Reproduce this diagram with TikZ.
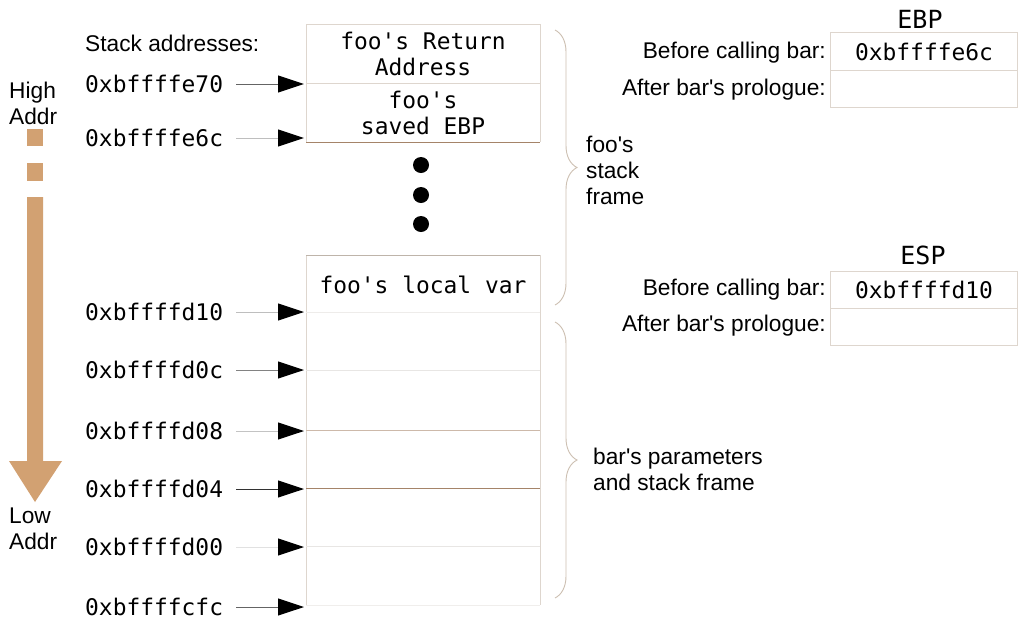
\documentclass[tikz,border=0pt]{standalone}
\usepackage{fontspec}
\newfontfamily\sansfnt{Liberation Sans}
\newfontfamily\monofnt{DejaVu Sans Mono}
\usetikzlibrary{arrows.meta,decorations.pathreplacing}
\definecolor{tan}{RGB}{210,161,114}
\definecolor{cellline}{RGB}{222,214,206}
\definecolor{brownline}{RGB}{165,132,105}
\definecolor{bracecol}{RGB}{205,192,178}
\tikzset{
  sanstxt/.style={inner sep=0pt, font=\sansfnt\fontsize{22.7}{26}\selectfont},
  monotxt/.style={inner sep=0pt, font=\monofnt\fontsize{22.9}{26.5}\selectfont},
  regtxt/.style={inner sep=0pt, font=\monofnt\fontsize{25}{28}\selectfont},
  addrarrow/.style={line width=1pt, -{Triangle[length=26pt,width=17pt,black]}},
  bracestyle/.style={draw=bracecol, line width=0.9pt, decorate, decoration={brace, amplitude=22pt}},
  dot/.style={circle, fill=black, inner sep=0pt, minimum size=16pt},
}
\begin{document}
\begin{tikzpicture}[x=1pt,y=-1pt]
\useasboundingbox (0,0) rectangle (1024,622);
\fill[white] (0,0) rectangle (1024,622);

% ---- left direction arrow
\node[sanstxt, anchor=west, align=left] (high) at (9,103) {High\\Addr};
\fill[tan] (27,129) rectangle (43,146);
\fill[tan] (27,163) rectangle (43,181);
\fill[tan] (27,197) -- (43,197) -- (43,461) -- (62,461) -- (35,502) -- (9,461) -- (27,461) -- cycle;
\node[sanstxt, anchor=west, align=left] (low) at (9,529) {Low\\Addr};

% ---- stack boxes
\node[sanstxt, anchor=west] (stacklbl) at (85,43) {Stack addresses:};
\draw[cellline, line width=0.9pt] (306,142) -- (306,24) -- (540,24) -- (540,142);
\draw[cellline, line width=0.9pt] (306,83) -- (540,83);
\draw[brownline, line width=1pt] (306,142) -- (540,142);
\node[monotxt, align=center] (ret) at (423,54) {foo's Return\\Address};
\node[monotxt, align=center] (sebp) at (423,113) {foo's\\saved EBP};

\node[dot] (d1) at (421,165) {};
\node[dot] (d2) at (421,195) {};
\node[dot] (d3) at (421,224) {};

\draw[cellline, line width=0.9pt] (306,605) -- (306,255) -- (540,255) -- (540,605);
\draw[color={rgb,255:red,190;green,180;blue,170}, line width=0.9pt] (306,255) -- (540,255);
\node[monotxt] (lvar) at (423,285) {foo's local var};
\draw[color={rgb,255:red,238;green,236;blue,234}, line width=0.9pt] (306,312) -- (540,312);
\draw[color={rgb,255:red,232;green,230;blue,228}, line width=0.9pt] (306,370) -- (540,370);
\draw[color={rgb,255:red,205;green,185;blue,170}, line width=0.9pt] (306,430) -- (540,430);
\draw[brownline, line width=1pt] (306,488) -- (540,488);
\draw[color={rgb,255:red,232;green,230;blue,228}, line width=0.9pt] (306,546) -- (540,546);
\draw[color={rgb,255:red,240;green,238;blue,236}, line width=0.9pt] (306,605) -- (540,605);

% ---- address labels and arrows
\foreach \n/\lab/\yy/\gr in {1/0xbffffe70/84/100, 2/0xbffffe6c/138/190, 3/0xbffffd10/312/190, 4/0xbffffd0c/370/130, 5/0xbffffd08/431/195, 6/0xbffffd04/489/50, 7/0xbffffd00/547/225, 8/0xbffffcfc/607/100}{
  \node[monotxt, anchor=west] (a\n) at (85,\yy) {\lab};
  \coordinate (s\n) at (236,\yy);
  \coordinate (t\n) at (304,\yy);
  \draw[addrarrow, draw={rgb,255:red,\gr;green,\gr;blue,\gr}] (s\n) -- (t\n);
}

% ---- braces
\coordinate (b1top) at (555,30);
\coordinate (b1bot) at (555,305);
\draw[bracestyle] (b1top) -- (b1bot);
\node[sanstxt, anchor=west, align=left] (foof) at (586,170) {foo's\\stack\\frame};
\coordinate (b2top) at (555,322);
\coordinate (b2bot) at (555,598);
\draw[bracestyle] (b2top) -- (b2bot);
\node[sanstxt, anchor=west, align=left] (barf) at (593,469) {bar's parameters\\and stack frame};

% ---- registers
\node[regtxt] (ebp) at (920,19) {EBP};
\draw[cellline, line width=0.9pt] (830,32) rectangle (1017,107);
\draw[cellline, line width=0.9pt] (830,70) -- (1017,70);
\node[monotxt] (ebpv) at (924,52) {0xbffffe6c};
\node[sanstxt, anchor=east] (ebpb) at (826,53) {Before calling bar:};
\node[sanstxt, anchor=east] (ebpa) at (826,90) {After bar's prologue:};

\node[regtxt] (esp) at (923,255) {ESP};
\draw[cellline, line width=0.9pt] (830,271) rectangle (1017,345);
\draw[cellline, line width=0.9pt] (830,308) -- (1017,308);
\node[monotxt] (espv) at (924,290) {0xbffffd10};
\node[sanstxt, anchor=east] (espb) at (826,290) {Before calling bar:};
\node[sanstxt, anchor=east] (espa) at (826,326) {After bar's prologue:};
\end{tikzpicture}
\end{document}
